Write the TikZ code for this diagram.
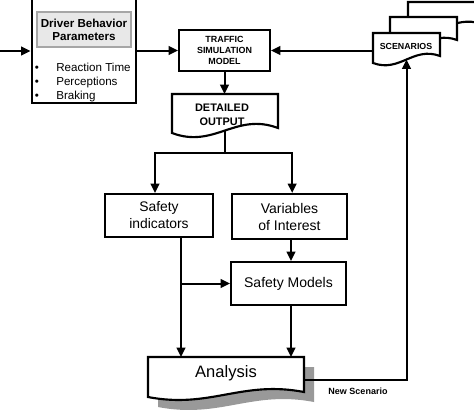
\documentclass[tikz,border=0pt]{standalone}
\usepackage{fontspec}
\setmainfont{Liberation Sans}
\usetikzlibrary{arrows.meta}
\newcommand{\fs}[2]{\fontsize{#1}{#2}\selectfont}
% #1 options, #2 L, #3 R, #4 T, #5 bottom-left, #6 bottom-right, #7 amplitude, #8 name of wave midpoint
\newcommand{\docshape}[8]{%
  \path[#1] (#2,#4) -- (#3,#4) -- (#3,#6)
    .. controls ({#2+0.6*(#3-#2)},{#6-#7}) and ({#2+0.4*(#3-#2)},{#5+#7}) ..
    coordinate[pos=0.5] (#8) (#2,#5) -- cycle;}
\begin{document}
\begin{tikzpicture}[x=0.75pt,y=-0.75pt,
  line/.style={line width=1.5pt},
  arr/.style={line width=1.5pt,-{Triangle[length=7pt,width=6.5pt]}},
  box/.style={draw,line width=1.6pt,inner sep=0pt,align=center},
  doc/.style={draw,line width=1.6pt,fill=white},
]
\useasboundingbox (0,0) rectangle (474,412);

% driver behaviour box
\node[draw,line width=2.2pt,minimum width=104*0.75pt,minimum height=108*0.75pt,inner sep=0pt] (drv) at (84,49) {};
\node[draw=gray!70,line width=0.8pt,fill=gray!18,minimum width=94*0.75pt,minimum height=35*0.75pt,
      inner sep=0pt,align=center,font=\bfseries\fs{8.7}{9.75}] (par) at (84,29.5) {Driver Behavior\\Parameters};
\node[anchor=base,inner sep=0pt,font=\fs{8.7}{10}] (b1) at (37,71) {•};
\node[anchor=base,inner sep=0pt,font=\fs{8.7}{10}] (b2) at (37,85) {•};
\node[anchor=base,inner sep=0pt,font=\fs{8.7}{10}] (b3) at (37,99) {•};
\node[anchor=base west,inner sep=0pt,font=\fs{8.7}{10}] (r1) at (56,71) {Reaction Time};
\node[anchor=base west,inner sep=0pt,font=\fs{8.7}{10}] (r2) at (56,85) {Perceptions};
\node[anchor=base west,inner sep=0pt,font=\fs{8.7}{10}] (r3) at (56,99) {Braking};

% traffic simulation model
\node[box,minimum width=91*0.75pt,minimum height=41*0.75pt,font=\bfseries\fs{6.7}{8.25}] (tsm) at (224.5,50.5) {TRAFFIC\\SIMULATION\\MODEL};

% scenarios stack
\docshape{doc}{408}{482}{2}{30}{24}{10}{s3}
\docshape{doc}{390}{457}{17}{47}{40}{10}{s2}
\docshape{doc}{373}{440}{33}{63}{56}{10}{scb}
\node[font=\bfseries\fs{6.6}{8}] (scn) at (406,46) {SCENARIOS};
\coordinate (scw) at (373,51);
\coordinate (inl) at (0,51);

\draw[arr] (inl) -- (inl -| drv.west);
\draw[arr] (drv.east |- tsm.west) -- (tsm.west);
\draw[arr] (tsm.east -| scw) -- (tsm.east);

% detailed output
\docshape{doc}{172}{278}{94}{133}{128}{16}{dob}
\node[font=\bfseries\fs{8.2}{10.5},align=center] (do) at (222,115) {DETAILED\\OUTPUT};
\coordinate (dotop) at (224.5,94);
\coordinate (splity) at (0,153);
\draw[arr] (tsm.south) -- (tsm.south |- dotop);

% boxes
\node[box,minimum width=108*0.75pt,minimum height=43*0.75pt,font=\fs{10.4}{12.75}] (si) at (159,215.5) {Safety\\indicators};
\node[box,minimum width=115*0.75pt,minimum height=45*0.75pt,font=\fs{10.5}{12.75}] (voi) at (289.5,216.5) {Variables\\of Interest};
\node[box,minimum width=115*0.75pt,minimum height=43*0.75pt,font=\fs{10.5}{12}] (sm) at (288.5,283.5) {Safety Models};

\draw[arr] (dob) -- (dob |- splity) -| ([xshift=-3pt]si.north);
\draw[arr] (dob |- splity) -| ([xshift=2pt]voi.north);

% analysis
\docshape{fill=black!40}{158}{314}{367}{407}{402}{12}{shd}
\docshape{doc}{148}{304}{357}{397}{392}{12}{anb}
\node[font=\fs{12.4}{14}] (an) at (226,373) {Analysis};
\coordinate (at1) at (181,357);
\coordinate (at2) at (291,357);
\coordinate (anr) at (304,380);

\draw[arr] (si.south -| at1) -- (at1);
\draw[arr] (sm.west -| at1) -- (sm.west);
\draw[arr] (voi.south -| at2) -- (sm.north -| at2);
\draw[arr] (sm.south -| at2) -- (at2);
\draw[arr] (anr) -| (scb);
\node[font=\bfseries\fs{6.75}{8}] (ns) at (358,391) {New Scenario};
\end{tikzpicture}
\end{document}
